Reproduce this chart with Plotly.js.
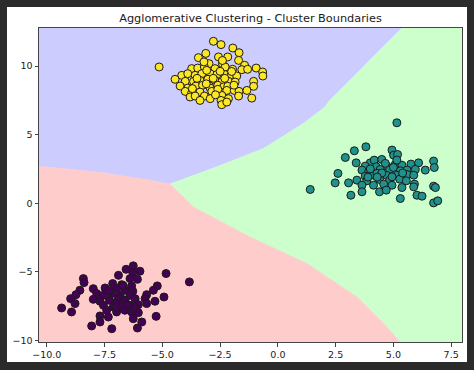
<!DOCTYPE html>
<html>
<head>
<meta charset="utf-8">
<script src="https://cdn.plot.ly/plotly-3.0.1.min.js"></script>
<style>
  html, body { margin: 0; padding: 0; background: #2b2b2b; width: 474px; height: 370px; overflow: hidden; }
  #frame { position: absolute; left: 7px; top: 7px; width: 460px; height: 355px; background: #ffffff; }
  #chart { position: absolute; left: 0; top: 0; width: 474px; height: 370px; }
</style>
</head>
<body>
<div id="frame"></div>
<div id="chart"></div>
<script>
// ---- Data ----
const chartTitle = "Agglomerative Clustering - Cluster Boundaries";

// Cluster 2 (yellow)
const yellowX = [-2.79,-2.46,-1.95,-1.68,-3.44,-3.12,-2.57,-2.17,-1.70,-5.14,-2.98,-2.40,-1.44,-0.94,-0.66,-0.65,-3.73,-3.47,-3.18,-2.72,-2.28,-1.96,-1.56,-1.31,-4.16,-3.90,-3.58,-3.29,-2.93,-2.64,-2.28,-2.02,-1.78,-4.45,-4.01,-3.65,-3.37,-3.03,-2.72,-2.43,-2.14,-1.85,-1.05,-1.05,-4.23,-3.90,-3.55,-3.26,-2.93,-2.60,-2.35,-2.17,-4.01,-3.73,-3.37,-2.86,-2.50,-2.21,-1.89,-1.68,-1.34,-3.80,-3.58,-3.18,-2.43,-1.70,-3.37,-2.93,-2.46,-2.14,-1.13,-2.43,-2.21,-3.70,-3.08,-2.50,-2.80,-3.10,-2.30,-2.60,-3.50,-2.00,-2.70,-2.40,-3.20,-1.90];
const yellowY = [11.80,11.56,11.31,10.97,10.61,10.92,10.66,10.66,10.41,9.93,10.17,10.17,10.05,9.85,9.56,9.27,9.81,9.85,9.93,9.81,9.93,9.76,9.73,9.76,9.32,9.44,9.32,9.44,9.44,9.37,9.37,9.37,9.27,9.03,8.88,8.88,8.95,9.03,8.95,8.83,8.88,8.83,8.88,8.52,8.54,8.39,8.54,8.59,8.39,8.59,8.47,8.52,8.15,8.05,8.10,8.15,8.10,8.22,8.22,8.15,8.22,7.74,7.81,7.81,7.86,7.81,7.49,7.62,7.49,7.62,7.66,7.18,7.37,8.35,9.68,9.61,9.10,8.70,9.10,8.30,9.10,9.60,7.90,10.40,10.30,8.60];

// Cluster 1 (teal)
const tealX = [5.15,3.81,3.31,2.92,4.94,5.01,5.18,3.39,4.00,4.17,4.50,3.78,4.26,4.72,5.08,5.37,5.76,6.09,6.74,6.77,6.38,2.60,3.64,3.93,4.43,4.84,5.30,5.59,5.95,3.78,4.14,4.69,5.15,5.59,5.88,2.48,3.06,3.42,3.85,4.40,4.84,5.27,5.56,5.91,1.40,3.64,4.14,4.58,4.94,3.64,4.40,4.69,5.37,5.88,6.74,6.82,3.16,5.30,6.02,6.24,6.74,6.92,5.15,4.65,4.29,4.94,4.50,4.00,5.00,4.30,3.90,5.40];
const tealY = [5.86,4.11,3.82,3.33,3.87,3.50,3.55,2.94,2.94,3.14,3.19,2.70,2.65,2.70,2.82,2.77,2.85,2.94,3.07,2.60,2.41,2.17,2.41,2.29,2.46,2.46,2.36,2.41,2.46,1.97,2.04,2.04,2.04,2.09,2.04,1.48,1.48,1.68,1.63,1.73,1.68,1.75,1.63,1.39,1.00,1.31,1.31,1.39,1.31,0.83,0.83,0.95,1.14,1.19,1.24,1.14,0.58,0.34,0.58,0.51,0.02,0.17,3.14,2.90,2.17,1.92,2.20,2.50,2.60,1.90,1.90,2.20];

// Cluster 0 (purple)
const purpleX = [-6.26,-6.57,-5.97,-6.28,-4.84,-3.83,-6.90,-6.40,-6.08,-8.42,-8.39,-7.15,-6.76,-6.33,-5.22,-7.99,-7.48,-6.98,-6.62,-6.28,-5.39,-8.57,-8.74,-7.84,-7.55,-7.19,-6.83,-6.40,-5.68,-4.93,-8.97,-7.99,-7.70,-7.29,-6.98,-6.62,-6.18,-5.75,-5.32,-8.78,-7.55,-7.12,-6.76,-6.40,-6.04,-5.68,-9.36,-8.93,-7.41,-6.98,-6.62,-6.33,-6.04,-7.70,-7.34,-6.26,-5.27,-7.70,-5.89,-8.06,-7.19,-6.08,-6.90,-6.50,-7.30,-6.70,-7.00,-6.20];
const purpleY = [-4.57,-4.82,-4.96,-5.06,-5.13,-5.74,-5.26,-5.50,-5.55,-5.50,-5.79,-5.86,-5.94,-6.03,-6.03,-6.23,-6.18,-6.23,-6.35,-6.42,-6.35,-6.35,-6.67,-6.59,-6.72,-6.59,-6.72,-6.72,-6.67,-6.84,-6.96,-7.01,-7.15,-7.08,-7.20,-7.08,-6.96,-6.96,-7.15,-7.32,-7.45,-7.57,-7.57,-7.45,-7.40,-7.32,-7.64,-7.93,-7.81,-7.93,-7.81,-7.93,-7.98,-8.22,-8.30,-8.42,-8.25,-8.66,-8.66,-8.95,-9.15,-9.10,-6.90,-7.40,-6.40,-6.00,-7.60,-7.60];

// Decision boundaries (data units)
const boundaryBlueGreenX = [5.37, 3.71, 2.20, 2.05, 1.11, -0.62, -2.64, -4.67];
const boundaryBlueGreenY = [12.77, 10.0, 7.43, 7.03, 5.82, 3.99, 2.65, 1.39];
const boundaryBlueRedX = [-4.67, -5.54, -7.71, -10.34];
const boundaryBlueRedY = [1.39, 1.68, 2.26, 2.70];
const boundaryRedGreenX = [-4.67, -3.66, -1.20, 1.26, 3.43, 4.58, 5.30];
const boundaryRedGreenY = [1.39, -0.27, -2.46, -4.40, -6.84, -8.78, -10.12];

const xTickVals = [-10, -7.5, -5, -2.5, 0, 2.5, 5, 7.5];
const yTickVals = [-10, -5, 0, 5, 10];

// ---- Build region polygons from the boundaries ----
const xr = [-10.34, 7.97], yr = [-10.12, 12.77];
const PAD = 2;
const xlo = xr[0] - PAD, xhi = xr[1] + PAD, ylo = yr[0] - PAD, yhi = yr[1] + PAD;
const rev = a => a.slice().reverse();
const last = a => a[a.length - 1];
const BGx = boundaryBlueGreenX, BGy = boundaryBlueGreenY;
const BRx = boundaryBlueRedX, BRy = boundaryBlueRedY;
const RGx = boundaryRedGreenX, RGy = boundaryRedGreenY;

// blue (yellow cluster region)
const blueX = [xlo, BGx[0]].concat(BGx, BRx.slice(1), [xlo]);
const blueY = [yhi, yhi].concat(BGy, BRy.slice(1), [last(BRy)]);
// green (teal cluster region)
const greenX = [xhi, xhi, last(RGx)].concat(rev(RGx), rev(BGx).slice(1), [BGx[0]]);
const greenY = [yhi, ylo, ylo].concat(rev(RGy), rev(BGy).slice(1), [yhi]);
// red (purple cluster region)
const redX = [xlo, xlo].concat(rev(BRx), RGx.slice(1), [last(RGx)]);
const redY = [ylo, last(BRy)].concat(rev(BRy), RGy.slice(1), [ylo]);

function region(x, y, color) {
  return { type: 'scatter', mode: 'lines', x: x, y: y, fill: 'toself', fillcolor: color,
           line: { width: 0.6, color: color }, hoverinfo: 'skip', showlegend: false };
}
function pts(x, y, color) {
  return { type: 'scatter', mode: 'markers', x: x, y: y, showlegend: false,
           marker: { size: 8, color: color, line: { width: 1, color: '#1a1a1a' } } };
}

const traces = [
  region(blueX, blueY, '#ccccff'),
  region(greenX, greenY, '#ccffcc'),
  region(redX, redY, '#ffcccc'),
  pts(purpleX, purpleY, '#440154'),
  pts(tealX, tealY, '#21918c'),
  pts(yellowX, yellowY, '#fde725')
];

const axisCommon = {
  showgrid: false, zeroline: false, showline: true, mirror: true,
  linecolor: '#444444', linewidth: 1,
  ticks: 'outside', ticklen: 3.5, tickwidth: 1, tickcolor: '#444444',
  tickfont: { family: 'DejaVu Sans', size: 9.5, color: '#222222' }
};

const layout = {
  width: 474, height: 370,
  margin: { l: 39, r: 12, t: 28, b: 28, pad: 0 },
  paper_bgcolor: 'rgba(0,0,0,0)', plot_bgcolor: '#ffffff',
  title: { text: chartTitle, x: 0.5, xref: 'paper', y: 0.951, yref: 'container', yanchor: 'middle',
           font: { family: 'DejaVu Sans', size: 11.3, color: '#1a1a1a' } },
  xaxis: Object.assign({}, axisCommon, { range: xr, tickvals: xTickVals, tickformat: '.1f' }),
  yaxis: Object.assign({}, axisCommon, { range: yr, tickvals: yTickVals, tickformat: 'd' }),
  showlegend: false
};

Plotly.newPlot('chart', traces, layout, { staticPlot: true, displayModeBar: false });
</script>
</body>
</html>
